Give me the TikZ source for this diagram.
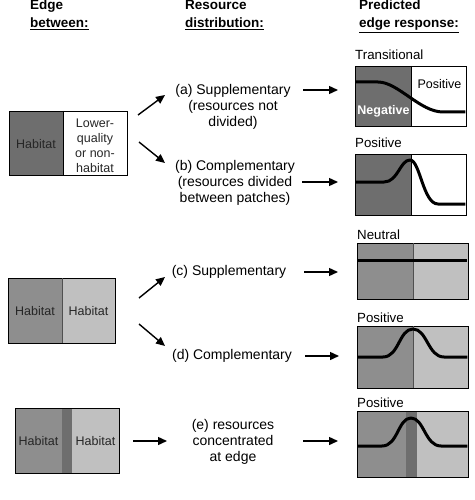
\documentclass[tikz,border=0pt]{standalone}
\usepackage{fontspec}
\setmainfont{Liberation Sans}
\usetikzlibrary{arrows.meta}
\definecolor{dk}{HTML}{6E6E6E}
\definecolor{md}{HTML}{8E8E8E}
\definecolor{lt}{HTML}{C0C0C0}
\definecolor{sep}{HTML}{505050}
\begin{document}
\begin{tikzpicture}[x=1pt,y=-1pt,
  hdr/.style={font=\bfseries\fontsize{13.5}{15}\selectfont, anchor=base west, inner sep=0},
  mid/.style={font=\fontsize{14}{16}\selectfont, align=center, inner sep=0},
  lbl/.style={font=\fontsize{13.3}{15}\selectfont, anchor=west, inner sep=0},
  boxt/.style={font=\fontsize{12.5}{15}\selectfont, text=black!85, inner sep=0, align=center},
  frame/.style={draw=black, line width=1.3pt, inner sep=0, anchor=north west},
  arr/.style={line width=1.4pt, -{Triangle[length=9pt,width=8pt]}},
  resp/.style={line width=3pt, line join=round}
]
\useasboundingbox (0,0) rectangle (474,500);

% ---------- headers ----------
\node[hdr] (h1a) at (30,10) {Edge};
\node[hdr] (h1b) at (30,28) {\underline{between:}};
\node[hdr] (h2a) at (185,10) {Resource};
\node[hdr] (h2b) at (185,28) {\underline{distribution:}};
\node[hdr] (h3a) at (359,10) {Predicted};
\node[hdr] (h3b) at (359,28) {\underline{edge response:}};

% ---------- left boxes ----------
\fill[dk] (9,111) rectangle (63,175);
\node[frame, minimum width=118pt, minimum height=64pt] (A) at (9,111) {};
\draw[line width=1pt] (63,111) -- (63,175);
\node[boxt] (Ah) at (36,144) {Habitat};
\node[boxt] (Al) at (95,145.5) {Lower-\\quality\\or non-\\habitat};

\fill[md] (8,278) rectangle (62,343);
\fill[lt] (62,278) rectangle (115,343);
\node[frame, minimum width=107pt, minimum height=65pt] (C) at (8,278) {};
\draw[line width=0.8pt, sep] (62,278) -- (62,343);
\node[boxt] (C1) at (35,311) {Habitat};
\node[boxt] (C2) at (88.5,311) {Habitat};

\fill[md] (15,408) rectangle (62,473);
\fill[dk] (62,408) rectangle (72,473);
\fill[lt] (72,408) rectangle (119,473);
\node[frame, minimum width=104pt, minimum height=65pt] (E) at (15,408) {};
\node[boxt] (E1) at (38.5,441) {Habitat};
\node[boxt] (E2) at (95.5,441) {Habitat};

% ---------- middle texts ----------
\node[mid] (ma) at (233,107) {(a) Supplementary\\(resources not\\divided)};
\node[mid] (mb) at (235,183) {(b) Complementary\\(resources divided\\between patches)};
\node[mid] (mc) at (229,272) {(c) Supplementary};
\node[mid] (md) at (232,356) {(d) Complementary};
\node[mid] (me) at (233,442) {(e) resources\\concentrated\\at edge};

% ---------- right boxes ----------
% box 1
\node[lbl] (l1) at (355,55) {Transitional};
\fill[dk] (355,66) rectangle (411,126);
\node[frame, minimum width=111pt, minimum height=60pt] (R1) at (355,66) {};
\draw[line width=0.8pt] (411,66) -- (411,126);
\node[font=\bfseries\fontsize{12.5}{14}\selectfont, text=white, inner sep=0] (neg) at (383.5,111) {Negative};
\node[font=\fontsize{12.5}{14}\selectfont, inner sep=0] (pos1) at (439.5,84) {Positive};
\draw[resp] (355.6,82) -- (378,82) .. controls (398,82) and (420,112) .. (443,112) -- (465.4,112);

% box 2
\node[lbl] (l2) at (355,143) {Positive};
\fill[dk] (355,154) rectangle (411,215);
\node[frame, minimum width=111pt, minimum height=61pt] (R2) at (355,154) {};
\draw[line width=0.8pt] (411,154) -- (411,215);
\draw[resp] (355.6,182) -- (384,182) .. controls (398,182) and (400,160) .. (410,160) .. controls (420,160) and (423,204) .. (438,204) -- (465.4,204);

% box 3
\node[lbl] (l3) at (357,235) {Neutral};
\fill[md] (357,243) rectangle (413,299);
\fill[lt] (413,243) rectangle (468,299);
\node[frame, minimum width=111pt, minimum height=56pt] (R3) at (357,243) {};
\draw[line width=0.8pt, sep] (413,243) -- (413,299);
\draw[resp] (357.6,260) -- (467.4,260);

% box 4
\node[lbl] (l4) at (357,318) {Positive};
\fill[md] (357,326) rectangle (413,388);
\fill[lt] (413,326) rectangle (468,388);
\node[frame, minimum width=111pt, minimum height=62pt] (R4) at (357,326) {};
\draw[line width=0.8pt, sep] (413,326) -- (413,388);
\draw[resp] (357.6,357) -- (383,357) .. controls (399,357) and (399,329) .. (413,329) .. controls (427,329) and (428,357) .. (444,357) -- (467.4,357);

% box 5
\node[lbl] (l5) at (357,403) {Positive};
\fill[md] (357,411) rectangle (406,477);
\fill[dk] (406,411) rectangle (417,477);
\fill[lt] (417,411) rectangle (468,477);
\node[frame, minimum width=111pt, minimum height=66pt] (R5) at (357,411) {};
\draw[resp] (357.6,446) -- (382,446) .. controls (398,446) and (398,418) .. (411,418) .. controls (424,418) and (425,446) .. (441,446) -- (467.4,446);

% ---------- arrow end points ----------
\coordinate (a1s) at (138,115);  \coordinate (a1e) at (165,95);
\coordinate (a2s) at (139,142);  \coordinate (a2e) at (165,163);
\coordinate (a3s) at (303,90);   \coordinate (a3e) at (338,90);
\coordinate (a4s) at (302,182);  \coordinate (a4e) at (338,182);
\coordinate (a5s) at (139,298);  \coordinate (a5e) at (165,277);
\coordinate (a6s) at (139,324);  \coordinate (a6e) at (165,346);
\coordinate (a7s) at (304,272);  \coordinate (a7e) at (338,272);
\coordinate (a8s) at (305,356);  \coordinate (a8e) at (339,356);
\coordinate (a9s) at (133,441);  \coordinate (a9e) at (167,441);
\coordinate (a10s) at (303,441); \coordinate (a10e) at (338,441);

\foreach \i in {1,...,10} \draw[arr] (a\i s) -- (a\i e);
\end{tikzpicture}
\end{document}
